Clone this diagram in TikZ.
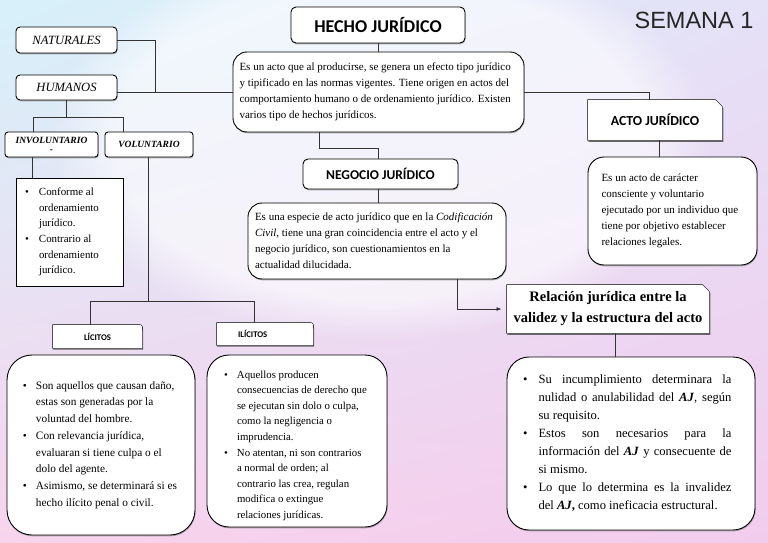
\documentclass[tikz,border=0pt]{standalone}
\usepackage{fontspec}
\setmainfont{Liberation Serif}
\newfontfamily\calib{Carlito}
\newfontfamily\semfont{Liberation Sans}
\usetikzlibrary{arrows.meta,backgrounds,fadings,shadings,shadows}
\definecolor{bgtl}{RGB}{214,241,250}
\definecolor{bgtr}{RGB}{229,225,247}
\definecolor{bgbl}{RGB}{248,212,237}
\definecolor{bgbr}{RGB}{242,204,237}
\newlength{\bulw}
\newcommand{\bul}{\makebox[\bulw][l]{\textbullet}}
\newcommand{\cont}{\hspace*{\bulw}}
\newcommand{\jline}[1]{\makebox[193pt][s]{#1}}
\newcommand{\tabbox}[1]{%
  \fill[black!60, transform canvas={xshift=0.6pt,yshift=-1.2pt}] (#1.south west) -- (#1.north west) -- ([xshift=-6pt]#1.north east) .. controls (#1.north east) .. ([yshift=-6pt]#1.north east) -- (#1.south east) -- cycle;
  \filldraw[fill=white] (#1.south west) -- (#1.north west) -- ([xshift=-6pt]#1.north east) .. controls (#1.north east) .. ([yshift=-6pt]#1.north east) -- (#1.south east) -- cycle;}
\newcommand{\snipbox}[1]{%
  \fill[black!60, transform canvas={xshift=0.8pt,yshift=-1.4pt}] (#1.south west) -- (#1.north west) -- ([xshift=-7pt]#1.north east) -- ([yshift=-7pt]#1.north east) -- (#1.south east) -- cycle;
  \filldraw[fill=white] (#1.south west) -- (#1.north west) -- ([xshift=-7pt]#1.north east) -- ([yshift=-7pt]#1.north east) -- (#1.south east) -- cycle;}
\tikzstyle{shade} = [drop shadow={shadow xshift=0.6pt, shadow yshift=-1.3pt, opacity=0.6}]
\tikzstyle{title} = [draw, fill=white, shade, rounded corners=5pt, inner sep=0pt, font={\calib\bfseries\fontsize{13.5}{16}\selectfont}]
\tikzstyle{info} = [draw, fill=white, shade, rounded corners=14pt, inner sep=0pt, align=flush left, font={\fontsize{11}{16}\selectfont}]
\tikzstyle{kind} = [draw, fill=white, shade, rounded corners=4pt, inner sep=0pt, font={\itshape\fontsize{12.6}{14}\selectfont}]
\tikzstyle{sub} = [draw, fill=white, shade, rounded corners=3pt, inner sep=0pt, align=center, font={\bfseries\itshape\fontsize{9.5}{9}\selectfont}]
\tikzstyle{tab} = [inner sep=0pt, font={\calib\bfseries\fontsize{8.7}{10}\selectfont}]
\tikzstyle{wire} = [draw=black!80, line width=0.8pt]

\begin{document}
\begin{tikzpicture}[x=1pt, y=-1pt, line width=0.9pt]
    \useasboundingbox (0,0) rectangle (768,543);
    \begin{scope}[on background layer]
        \shade[upper left=bgtl, upper right=bgtr, lower left=bgbl, lower right=bgbr] (0,0) rectangle (768,543);
        \fill[white, opacity=0.6, path fading=circle with fuzzy edge 20 percent] (380,140) ellipse [x radius=330, y radius=200];
    \end{scope}

    % central column
    \node[title, minimum width=174pt, minimum height=36pt, font={\calib\bfseries\fontsize{18}{20}\selectfont}] (hecho) at (378,25) {HECHO JURÍDICO};
    \node[info, minimum width=291pt, minimum height=80pt, text width=278pt] (hechotxt) at (378.5,92) {Es un acto que al producirse, se genera un efecto tipo jurídico\\ y tipificado en las normas vigentes. Tiene origen en actos del\\ comportamiento humano o de ordenamiento jurídico. Existen\\ varios tipo de hechos jurídicos.};
    \node[title, minimum width=155pt, minimum height=30pt] (negocio) at (380.5,174) {NEGOCIO JURÍDICO};
    \node[info, minimum width=258pt, minimum height=76pt, text width=244pt] (negociotxt) at (377,241) {Es una especie de acto jurídico que en la \textit{Codificación}\\ \textit{Civil,} tiene una gran coincidencia entre el acto y el\\ negocio jurídico, son cuestionamientos en la\\ actualidad dilucidada.};

    % right column
    \node[inner sep=0pt, minimum width=134pt, minimum height=40pt, font={\calib\bfseries\fontsize{13.8}{16}\selectfont}] (acto) at (655,120) {ACTO JURÍDICO};
    \node[info, rounded corners=16pt, minimum width=169pt, minimum height=108pt, text width=142pt] (actotxt) at (672.5,211) {Es un acto de carácter\\ consciente y voluntario\\ ejecutado por un individuo que\\ tiene por objetivo establecer\\ relaciones legales.};
    \node[inner sep=0pt, minimum width=202pt, minimum height=48pt, align=center, font={\bfseries\fontsize{14.5}{21}\selectfont}] (relacion) at (608,309) {Relación jurídica entre la\\ validez y la estructura del acto};
    \node[info, rounded corners=22pt, minimum width=248pt, minimum height=173pt, text width=216pt, font={\fontsize{12.6}{18}\selectfont}] (relaciontxt) at (631,443.5) {\setlength{\bulw}{15.5pt}%
        \bul\jline{Su incumplimiento determinara la}\\ \cont\jline{nulidad o anulabilidad del \textbf{\textit{AJ}}, según}\\ \cont su requisito.\\
        \bul\jline{Estos son necesarios para la}\\ \cont\jline{información del \textbf{\textit{AJ}} y consecuente de}\\ \cont si mismo.\\
        \bul\jline{Lo que lo determina es la invalidez}\\ \cont del \textbf{\textit{AJ},} como ineficacia estructural.};
    \node[inner sep=0pt, font={\semfont\fontsize{23.5}{26}\selectfont}, text=black!85] (semana) at (694,20) {SEMANA 1};

    % left column
    \node[kind, minimum width=101pt, minimum height=26pt] (naturales) at (66.5,40) {NATURALES};
    \node[kind, minimum width=101pt, minimum height=25pt] (humanos) at (66.5,87.5) {HUMANOS};
    \node[sub, minimum width=93pt, minimum height=25pt] (invol) at (51.5,144.5) {INVOLUNTARIO\\ -};
    \node[sub, minimum width=88pt, minimum height=25pt] (vol) at (149,144.5) {VOLUNTARIO};
    \node[info, sharp corners, minimum width=107pt, minimum height=108pt, text width=89pt, font={\fontsize{10.9}{15.6}\selectfont}] (involtxt) at (69.5,232) {\setlength{\bulw}{14pt}%
        \bul Conforme al\\ \cont ordenamiento\\ \cont jurídico.\\
        \bul Contrario al\\ \cont ordenamiento\\ \cont jurídico.};
    \node[tab, minimum width=89pt, minimum height=23pt] (licitos) at (97.5,336.5) {LÍCITOS};
    \node[tab, minimum width=96pt, minimum height=22pt, text width=54pt, align=flush left] (ilicitos) at (265,334) {ILÍCITOS};
    \node[info, rounded corners=25pt, minimum width=188pt, minimum height=180pt, text width=156pt, font={\fontsize{11.3}{16.7}\selectfont}] (licitostxt) at (101,445) {\setlength{\bulw}{13pt}%
        \bul Son aquellos que causan daño,\\ \cont estas son generadas por la\\ \cont voluntad del hombre.\\
        \bul Con relevancia jurídica,\\ \cont evaluaran si tiene culpa o el\\ \cont dolo del agente.\\
        \bul Asimismo, se determinará si es\\ \cont hecho ilícito penal o civil.};
    \node[info, rounded corners=22pt, minimum width=180pt, minimum height=172pt, text width=146pt, font={\fontsize{10.8}{15.6}\selectfont}] (ilicitostxt) at (297,441) {\setlength{\bulw}{13pt}%
        \bul\rule{0pt}{17pt}Aquellos producen\\ \cont consecuencias de derecho que\\ \cont se ejecutan sin dolo o culpa,\\ \cont como la negligencia o\\ \cont imprudencia.\\
        \bul No atentan, ni son contrarios\\ \cont a normal de orden; al\\ \cont contrario las crea, regulan\\ \cont modifica o extingue\\ \cont relaciones jurídicas.};

    \begin{scope}[on background layer]
        \snipbox{acto}
        \snipbox{relacion}
        \tabbox{licitos}
        \tabbox{ilicitos}
    \end{scope}

    % connectors
    \draw[wire] (hecho.south) -- (hecho.south |- hechotxt.north);
    \draw[wire] ([xshift=-59.5pt]hechotxt.south) -- ++(0,16) -| (negocio.north -| hecho.south);
    \draw[wire] (negocio.south -| hecho.south) -- (negociotxt.north -| hecho.south);
    \draw[wire] (hechotxt.east) -| ([xshift=-6pt]acto.north);
    \draw[wire] ([xshift=4pt]acto.south) -- ([xshift=4pt]acto.south |- actotxt.north);
    \draw[wire] (hechotxt.west) -- (hechotxt.west -| humanos.east);
    \coordinate (natjoin) at (155,92);
    \draw[wire] (naturales.east) -| (natjoin);
    \draw[wire] (humanos.south) -- ++(0,17) coordinate (humsplit);
    \draw[wire] ([xshift=-18.5pt]invol.north) |- (humsplit) -| ([xshift=-26pt]vol.north);
    \draw[wire] ([xshift=-19.5pt]invol.south) -- ([xshift=-19.5pt]invol.south |- involtxt.north);
    \draw[wire] ([xshift=-1pt]vol.south) -- ++(0,144) coordinate (volsplit);
    \draw[wire] ([xshift=-7.5pt]licitos.north) |- (volsplit) -| ([xshift=-11pt]ilicitos.north);
    \draw[wire, -{Latex[length=5pt,width=4pt]}, shorten >=5pt] ([xshift=80pt]negociotxt.south) |- (relacion.west);
    \draw[wire] ([xshift=7pt]relacion.south) -- ([xshift=7pt]relacion.south |- relaciontxt.north);
\end{tikzpicture}
\end{document}
